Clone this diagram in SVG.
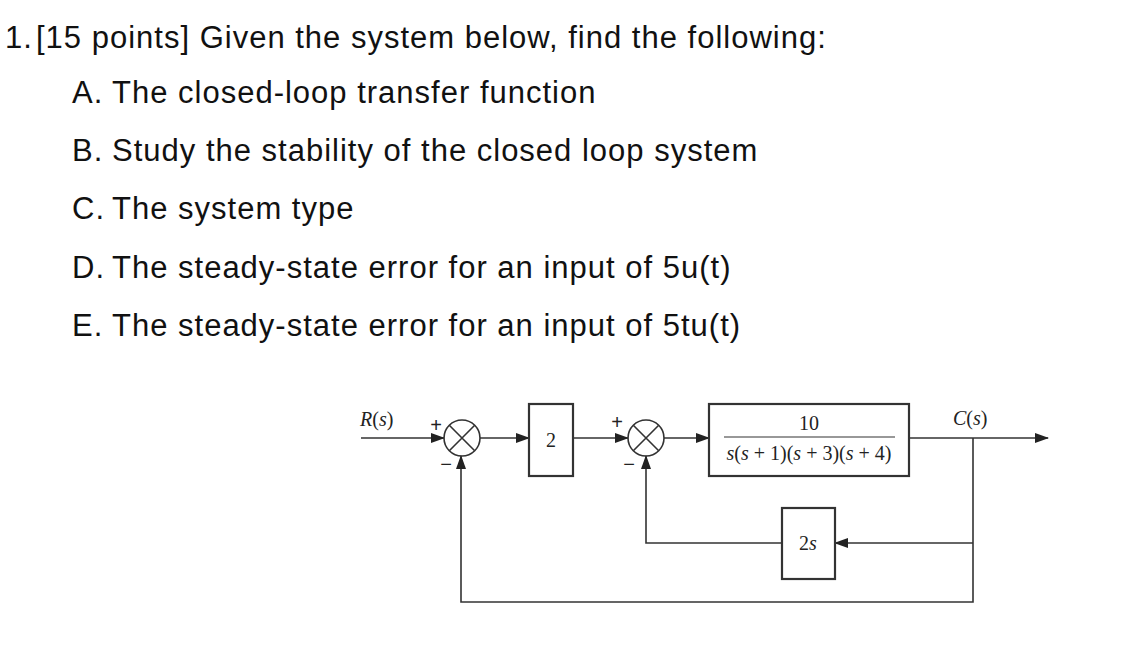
<svg xmlns="http://www.w3.org/2000/svg" width="1122" height="654" viewBox="0 0 1122 654">
<defs>
<marker id="ar" markerWidth="14" markerHeight="10" refX="13" refY="5" orient="auto" markerUnits="userSpaceOnUse"><path d="M0,0 L14,5 L0,10 Z" fill="#222"/></marker>
<style>
.q{font-family:"Liberation Sans",Arial,sans-serif;font-size:31px;letter-spacing:1px;fill:#111}
.m{font-family:"Liberation Serif","Times New Roman",serif;font-size:20px;fill:#222}
.s{font-family:"Liberation Sans",Arial,sans-serif;font-size:20px;fill:#222}
.i{font-style:italic}
.w{fill:none;stroke:#333;stroke-width:1.6}
.b{fill:#fff;stroke:#333;stroke-width:2.2}
</style>
</defs>
<rect width="1122" height="654" fill="#fff"/>
<text class="q" x="5" y="48">1.</text><text class="q" x="36" y="48">[15 points] Given the system below, find the following:</text>
<text class="q" x="72" y="103">A.</text><text class="q" x="112" y="103">The closed-loop transfer function</text>
<text class="q" x="72" y="161">B.</text><text class="q" x="112" y="161">Study the stability of the closed loop system</text>
<text class="q" x="72" y="219">C.</text><text class="q" x="112" y="219">The system type</text>
<text class="q" x="72" y="278">D.</text><text class="q" x="112" y="278">The steady-state error for an input of 5u(t)</text>
<text class="q" x="72" y="336">E.</text><text class="q" x="112" y="336">The steady-state error for an input of 5tu(t)</text>
<g id="connectors">
<path class="w" d="M361,438 H444" marker-end="url(#ar)"/>
<path class="w" d="M480,438 H529" marker-end="url(#ar)"/>
<path class="w" d="M573,438 H628" marker-end="url(#ar)"/>
<path class="w" d="M664,438 H709" marker-end="url(#ar)"/>
<path class="w" d="M909,438 H1048" marker-end="url(#ar)"/>
<path class="w" d="M973,438 V602 H461 V456" marker-end="url(#ar)"/>
<path class="w" d="M973,543 H835" marker-end="url(#ar)"/>
<path class="w" d="M782,543 H646 V456" marker-end="url(#ar)"/>
</g>
<g id="sum1"><circle class="w" cx="462" cy="438" r="18"/><path class="w" d="M449.3,425.3 L474.7,450.7 M474.7,425.3 L449.3,450.7"/>
<text class="s" x="436" y="432" text-anchor="middle">+</text><text class="s" x="446" y="471" text-anchor="middle">−</text></g>
<g id="sum2"><circle class="w" cx="646" cy="438" r="18"/><path class="w" d="M633.3,425.3 L658.7,450.7 M658.7,425.3 L633.3,450.7"/>
<text class="s" x="617" y="429" text-anchor="middle">+</text><text class="s" x="629" y="471" text-anchor="middle">−</text></g>
<g id="gain2"><rect class="b" x="529" y="404" width="44" height="72"/><text class="m" x="551" y="447" text-anchor="middle">2</text></g>
<g id="plant"><rect class="b" x="709" y="404" width="200" height="72"/>
<text class="m" x="809" y="430" text-anchor="middle">10</text>
<line x1="724" y1="437" x2="895" y2="437" stroke="#333" stroke-width="1.2"/>
<text class="m" x="809" y="460" text-anchor="middle"><tspan class="i">s</tspan>(<tspan class="i">s</tspan> + 1)(<tspan class="i">s</tspan> + 3)(<tspan class="i">s</tspan> + 4)</text></g>
<g id="fb"><rect class="b" x="782" y="508" width="53" height="71"/><text class="m" x="808" y="550" text-anchor="middle">2<tspan class="i">s</tspan></text></g>
<g id="labels"><text class="m" x="360" y="426"><tspan class="i">R</tspan>(<tspan class="i">s</tspan>)</text>
<text class="m" x="953" y="425"><tspan class="i">C</tspan>(<tspan class="i">s</tspan>)</text></g>
</svg>
